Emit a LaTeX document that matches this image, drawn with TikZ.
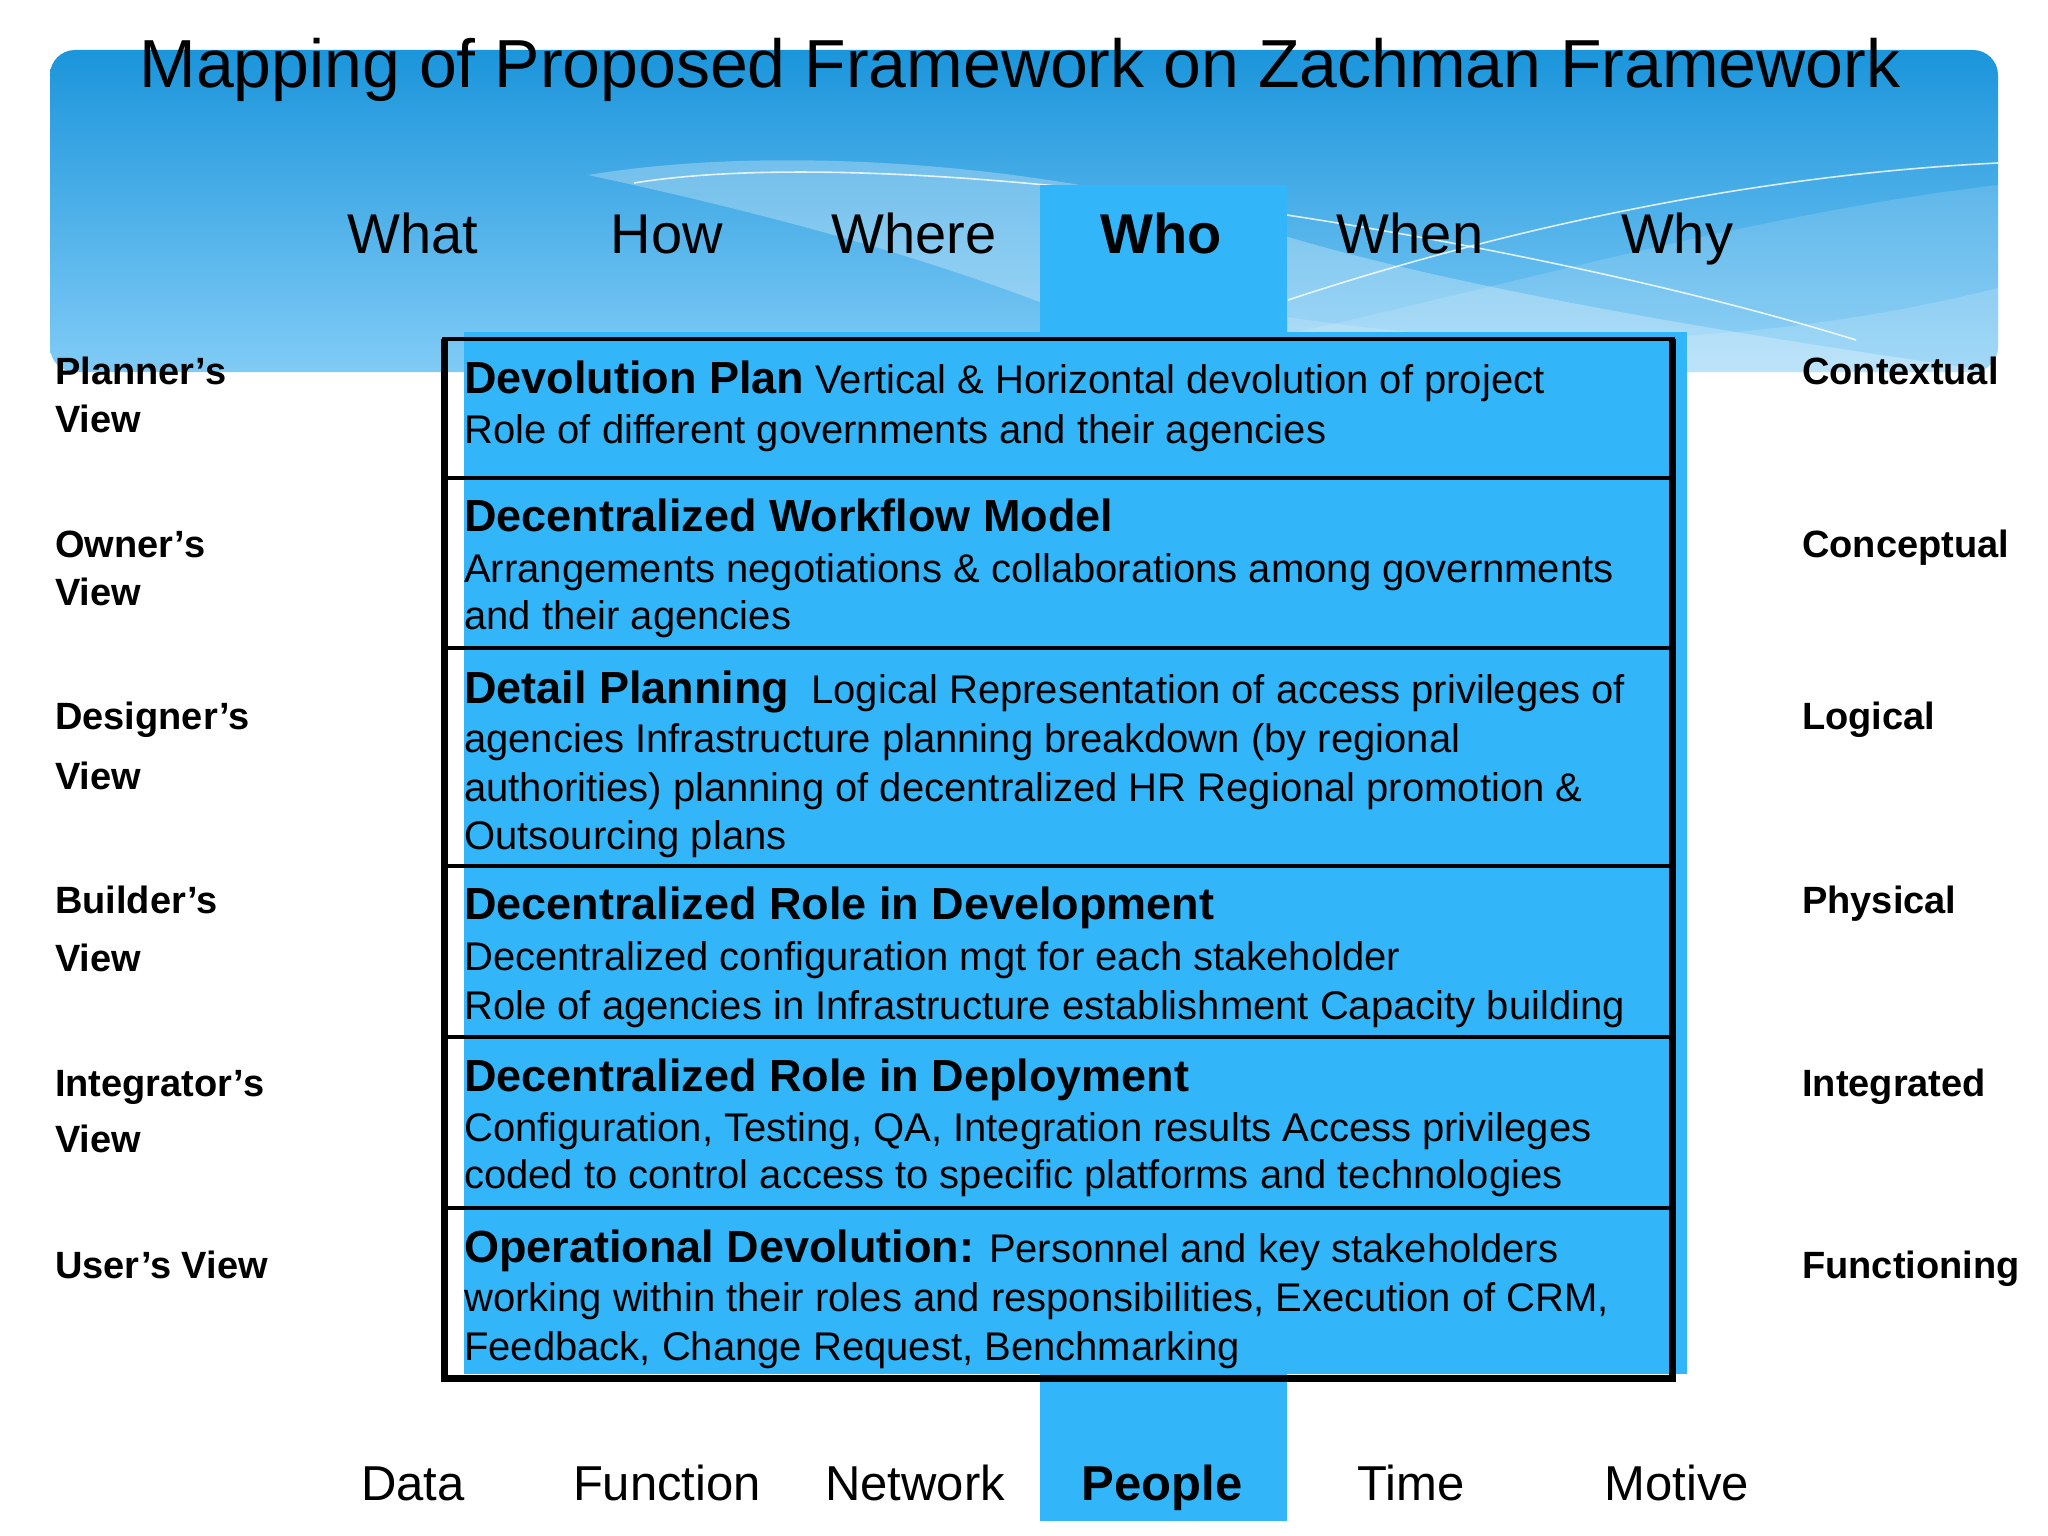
\documentclass[tikz,border=0pt]{standalone}
\usepackage{fontspec}
\setmainfont{Liberation Sans}
\definecolor{hdrtop}{RGB}{27,149,219}
\definecolor{hdrbot}{RGB}{128,203,246}
\definecolor{tblue}{RGB}{50,181,249}
\newcommand{\hb}[1]{{\fontsize{45}{48}\selectfont\bfseries #1}}
\tikzset{
  ttl/.style={font=\fontsize{68}{72}\selectfont, anchor=base, inner sep=0},
  hdr/.style={font=\fontsize{56}{60}\selectfont, anchor=base, inner sep=0},
  ftr/.style={font=\fontsize{49}{54}\selectfont, anchor=base, inner sep=0},
  side/.style={font=\fontsize{38}{44}\selectfont\bfseries, anchor=base west, inner sep=0},
  cell/.style={font=\fontsize{40}{48}\selectfont, anchor=base west, inner sep=0},
  wline/.style={white, opacity=0.8, line width=1.6},
  sep/.style={line width=3.5},
}
\begin{document}
\begin{tikzpicture}[x=1pt,y=-1pt]
\useasboundingbox (0,0) rectangle (2048,1536);
\fill[white] (0,0) rectangle (2048,1536);
% header band
\shade[top color=hdrtop, bottom color=hdrbot, rounded corners=25] (50,50) rectangle (1998,372);
\begin{scope}
  \clip[rounded corners=25] (50,50) rectangle (1998,372);
  \fill[white, opacity=0.28] (588,175) .. controls (800,140) and (1100,170) .. (1288,237)
     .. controls (1450,285) and (1700,330) .. (1998,372) -- (1200,372)
     .. controls (1000,270) and (750,210) .. (588,175) -- cycle;
  \fill[white, opacity=0.14] (1100,372) .. controls (1400,320) and (1700,220) .. (1998,185) -- (1998,372) -- cycle;
  \fill[white, opacity=0.16] (1288,317) .. controls (1500,350) and (1750,350) .. (1998,288) -- (1998,372) -- (1288,372) -- cycle;
  \draw[wline] (634,183) .. controls (900,140) and (1500,230) .. (1856,340);
  \draw[wline] (1288,300) .. controls (1500,230) and (1750,175) .. (1998,163);
\end{scope}
% Who / People column
\fill[tblue] (1040,185) rectangle (1287,1521);
% table
\fill[tblue] (464,332) rectangle (1687,1374);
\draw[line width=4] (444,339) rectangle (1673,1378);
\draw[line width=7, line join=miter] (444,339) -- (444,1378) -- (1672.5,1378) -- (1672.5,339);
\draw[sep] (447,478) -- (1670,478);
\draw[sep] (447,648) -- (1670,648);
\draw[sep] (447,866) -- (1670,866);
\draw[sep] (447,1037) -- (1670,1037);
\draw[sep] (447,1208) -- (1670,1208);
% title
\node[ttl] (title) at (1020,88) {Mapping of Proposed Framework on Zachman Framework};
% top headers
\node[hdr] (what) at (413,253) {What};
\node[hdr] (how) at (667,253) {How};
\node[hdr] (where) at (914,253) {Where};
\node[hdr] (who) at (1161,253) {\bfseries Who};
\node[hdr] (when) at (1410,253) {When};
\node[hdr] (why) at (1677,253) {Why};
% bottom headers
\node[ftr] (data) at (413,1500) {Data};
\node[ftr] (function) at (667,1500) {Function};
\node[ftr] (network) at (915,1500) {Network};
\node[ftr] (people) at (1162,1500) {\bfseries People};
\node[ftr] (time) at (1411,1500) {Time};
\node[ftr] (motive) at (1677,1500) {Motive};
% left labels
\node[side] (pl1) at (55,384) {Planner’s};
\node[side] (pl2) at (55,432) {View};
\node[side] (ow1) at (55,557) {Owner’s};
\node[side] (ow2) at (55,605) {View};
\node[side] (de1) at (55,729) {Designer’s};
\node[side] (de2) at (55,789) {View};
\node[side] (bu1) at (55,913) {Builder’s};
\node[side] (bu2) at (55,971) {View};
\node[side] (in1) at (55,1096) {Integrator’s};
\node[side] (in2) at (55,1152) {View};
\node[side] (us1) at (55,1278) {User’s View};
% right labels
\node[side] (contextual) at (1802,384) {Contextual};
\node[side] (conceptual) at (1802,557) {Conceptual};
\node[side] (logical) at (1802,729) {Logical};
\node[side] (physical) at (1802,913) {Physical};
\node[side] (integrated) at (1802,1096) {Integrated};
\node[side] (functioning) at (1802,1278) {Functioning};
% row 1
\node[cell] (r1a) at (464,393) {\hb{Devolution Plan} Vertical \& Horizontal devolution of project};
\node[cell] (r1b) at (464,443) {Role of different governments and their agencies};
% row 2
\node[cell] (r2a) at (464,531) {\hb{Decentralized Workflow Model}};
\node[cell] (r2b) at (464,582) {Arrangements negotiations \& collaborations among governments};
\node[cell] (r2c) at (464,629) {and their agencies};
% row 3
\node[cell] (r3a) at (464,703) {\hb{Detail Planning}\ \ Logical Representation of access privileges of};
\node[cell] (r3b) at (464,752) {agencies Infrastructure planning breakdown (by regional};
\node[cell] (r3c) at (464,801) {authorities) planning of decentralized HR Regional promotion \&};
\node[cell] (r3d) at (464,849) {Outsourcing plans};
% row 4
\node[cell] (r4a) at (464,919) {\hb{Decentralized Role in Development}};
\node[cell] (r4b) at (464,970) {Decentralized configuration mgt for each stakeholder};
\node[cell] (r4c) at (464,1019) {Role of agencies in Infrastructure establishment Capacity building};
% row 5
\node[cell] (r5a) at (464,1091) {\hb{Decentralized Role in Deployment}};
\node[cell] (r5b) at (464,1141) {Configuration, Testing, QA, Integration results Access privileges};
\node[cell] (r5c) at (464,1188) {coded to control access to specific platforms and technologies};
% row 6
\node[cell] (r6a) at (464,1262) {\hb{Operational Devolution:} Personnel and key stakeholders};
\node[cell] (r6b) at (464,1311) {working within their roles and responsibilities, Execution of CRM,};
\node[cell] (r6c) at (464,1360) {Feedback, Change Request, Benchmarking};
\end{tikzpicture}
\end{document}
